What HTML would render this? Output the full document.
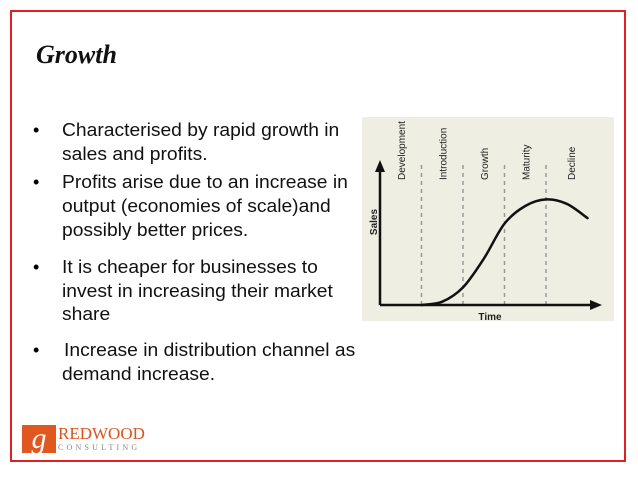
<!DOCTYPE html>
<html><head><meta charset="utf-8"><style>
body{margin:0;width:638px;height:478px;background:#fff;position:relative;overflow:hidden;font-family:"Liberation Sans",sans-serif}
.frame{position:absolute;left:10px;top:10px;width:616px;height:452px;border:2px solid #e02020;box-sizing:border-box}
.title{position:absolute;left:36px;top:40px;font-family:"Liberation Serif",serif;font-style:italic;font-weight:bold;font-size:26px;color:#111}
.line{position:absolute;left:62px;font-size:18px;color:#111;white-space:nowrap;line-height:20px;transform:scaleX(1.07);transform-origin:0 0}
.bul{position:absolute;left:33px;font-size:18px;line-height:20px}
</style></head><body>
<div class="frame"></div>
<div class="title">Growth</div>
<div>
<span class="bul" style="top:120px">•</span><div class="line" style="top:120px">Characterised by rapid growth in</div>
<div class="line" style="top:144px">sales and profits.</div>
<span class="bul" style="top:172px">•</span><div class="line" style="top:172px">Profits arise due to an increase in</div>
<div class="line" style="top:196px">output (economies of scale)and</div>
<div class="line" style="top:220px">possibly better prices.</div>
<span class="bul" style="top:257px">•</span><div class="line" style="top:257px">It is cheaper for businesses to</div>
<div class="line" style="top:281px">invest in increasing their market</div>
<div class="line" style="top:304px">share</div>
<span class="bul" style="top:340px">•</span><div class="line" style="top:340px;left:64px">Increase in distribution channel as</div>
<div class="line" style="top:364px">demand increase.</div>
</div>
<svg width="638" height="478" style="position:absolute;left:0;top:0">
<rect x="362" y="117" width="252" height="204" fill="#efeee2"/>
<g id="g"></g>
<line x1="380" y1="305" x2="380" y2="166" stroke="#111" stroke-width="2.5"/>
<polygon points="380,160 375,172 385,172" fill="#111"/>
<line x1="380" y1="305" x2="594" y2="305" stroke="#111" stroke-width="2.5"/>
<polygon points="602,305 590,300 590,310" fill="#111"/>
<text x="377" y="222" transform="rotate(-90 377 222)" text-anchor="middle" font-size="10" font-weight="bold" fill="#222">Sales</text>
<text x="490" y="320" text-anchor="middle" font-size="10" font-weight="bold" fill="#222">Time</text>
</svg>
<script>
const stages=["Development","Introduction","Growth","Maturity","Decline"];
const boundaries=[1,2,3,4];
const curveT=[1,1.5,2,2.5,3,3.5,4,4.5,5];
const curveV=[0,3,16,42,74,90,96,92,79];
const g=document.getElementById('g');
const ns='http://www.w3.org/2000/svg';
const x=t=>380+t*41.5, y=v=>305-v*1.1;
boundaries.forEach(b=>{const l=document.createElementNS(ns,'line');
l.setAttribute('x1',x(b));l.setAttribute('x2',x(b));l.setAttribute('y1',165);l.setAttribute('y2',305);
l.setAttribute('stroke','#999');l.setAttribute('stroke-width','1.5');l.setAttribute('stroke-dasharray','4 4');


g.appendChild(l);});
stages.forEach((s,i)=>{const t=document.createElementNS(ns,'text');const cx=x(i+0.5)+(i==4?4:0);
t.setAttribute('x',cx+4);t.setAttribute('y',180);t.setAttribute('transform','rotate(-90 '+(cx+4)+' 180)');
t.setAttribute('font-size','10');t.setAttribute('fill','#222');t.textContent=s;


g.appendChild(t);});
const P=curveT.map((t,i)=>[x(t),y(curveV[i])]);
let d='M'+P[0][0]+' '+P[0][1];
for(let i=0;i<P.length-1;i++){const p0=P[Math.max(0,i-1)],p1=P[i],p2=P[i+1],p3=P[Math.min(P.length-1,i+2)];
d+=' C'+(p1[0]+(p2[0]-p0[0])/6)+' '+(p1[1]+(p2[1]-p0[1])/6)+' '+(p2[0]-(p3[0]-p1[0])/6)+' '+(p2[1]-(p3[1]-p1[1])/6)+' '+p2[0]+' '+p2[1];}
const p=document.createElementNS(ns,'path');p.setAttribute('d',d);p.setAttribute('fill','none');
p.setAttribute('stroke','#111');p.setAttribute('stroke-width','2.5');p.setAttribute('stroke-linecap','round');


g.appendChild(p);
</script>
<div style="position:absolute;left:22px;top:425px;width:34px;height:28px;background:#e0581f;color:#fff;font-family:'Liberation Serif',serif;font-style:italic;font-size:30px;line-height:28px;text-align:center">g</div>
<div style="position:absolute;left:58px;top:425px;font-family:'Liberation Serif',serif;font-size:17px;color:#d9541e;line-height:18px">REDWOOD</div>
<div style="position:absolute;left:58px;top:443px;font-family:'Liberation Serif',serif;font-size:8px;letter-spacing:3.2px;color:#888">CONSULTING</div>
</body></html>
